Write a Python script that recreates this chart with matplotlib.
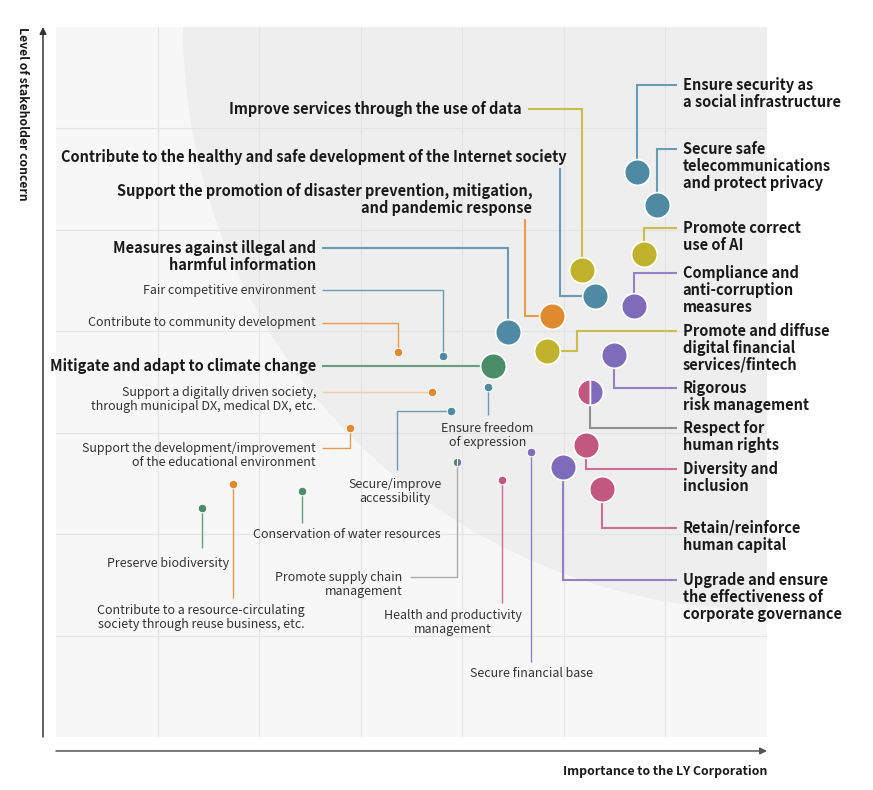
import matplotlib
matplotlib.use('Agg')
import matplotlib.pyplot as plt
from matplotlib.patches import Circle
from matplotlib.colors import to_rgb

plt.rcParams['font.family'] = ['Noto Sans CJK JP', 'DejaVu Sans']

TEAL = '#4f8aa3'
OLIVE = '#c0b22d'
ORANGE = '#e08a2f'
PURPLE = '#7e6cbb'
GREEN = '#4b8d68'
PINK = '#c2577f'

# ---------------- data ----------------
topics = [
    "Ensure security as\na social infrastructure",
    "Secure safe\ntelecommunications\nand protect privacy",
    "Promote correct\nuse of AI",
    "Compliance and\nanti-corruption\nmeasures",
    "Improve services through the use of data",
    "Contribute to the healthy and safe development of the Internet society",
    "Support the promotion of disaster prevention, mitigation,\nand pandemic response",
    "Measures against illegal and\nharmful information",
    "Mitigate and adapt to climate change",
    "Promote and diffuse\ndigital financial\nservices/fintech",
    "Rigorous\nrisk management",
    "Respect for\nhuman rights",
    "Diversity and\ninclusion",
    "Upgrade and ensure\nthe effectiveness of\ncorporate governance",
    "Retain/reinforce\nhuman capital",
    "Fair competitive environment",
    "Contribute to community development",
    "Support a digitally driven society,\nthrough municipal DX, medical DX, etc.",
    "Ensure freedom\nof expression",
    "Secure/improve\naccessibility",
    "Support the development/improvement\nof the educational environment",
    "Promote supply chain\nmanagement",
    "Secure financial base",
    "Health and productivity\nmanagement",
    "Contribute to a resource-circulating\nsociety through reuse business, etc.",
    "Conservation of water resources",
    "Preserve biodiversity",
]
importance = [5.72, 5.92, 5.79, 5.69, 5.18, 5.31, 4.88, 4.45, 4.30, 4.83, 5.49, 5.26, 5.22, 4.99, 5.38,
              3.81, 3.37, 3.70, 4.25, 3.89, 2.89, 3.95, 4.68, 4.39, 1.74, 2.42, 1.44]
concern = [5.57, 5.245, 4.76, 4.25, 4.60, 4.35, 4.15, 3.99, 3.66, 3.81, 3.77, 3.40, 2.88, 2.66, 2.445,
           3.76, 3.80, 3.40, 3.45, 3.21, 3.05, 2.71, 2.81, 2.53, 2.49, 2.43, 2.26]
is_material = [True] * 15 + [False] * 12
color_main = [TEAL, TEAL, OLIVE, PURPLE, OLIVE, TEAL, ORANGE, TEAL, GREEN, OLIVE, PURPLE, PINK, PINK, PURPLE, PINK,
              TEAL, ORANGE, ORANGE, TEAL, TEAL, ORANGE, GREEN, PURPLE, PINK, ORANGE, GREEN, GREEN]
color_alt = [None] * 11 + [PURPLE] + [None] * 9 + [PURPLE] + [None] * 5

# ---------------- layout (label anchors & leader routes) ----------------
R = 'right'
L = 'left'
C = 'center'
label_pos = [
    (6.17, 6.43, L), (6.17, 5.797, L), (6.17, 5.018, L), (6.17, 4.575, L),
    (4.58, 6.19, R), (5.03, 5.72, R), (4.69, 5.383, R), (2.56, 4.82, R), (2.56, 3.66, R),
    (6.17, 4.003, L), (6.17, 3.441, L), (6.17, 3.046, L), (6.17, 2.642, L), (6.17, 1.548, L), (6.17, 2.061, L),
    (2.56, 4.407, R), (2.56, 4.082, R), (2.56, 3.40, R), (4.25, 3.046, C), (3.34, 2.494, C),
    (2.56, 2.849, R), (3.41, 1.577, R), (4.68, 0.625, C), (3.91, 1.193, C), (1.43, 1.252, C),
    (2.865, 2.001, C), (1.10, 1.715, C),
]
# route: ('vh', y, x_end) | ('hv', x, y_end) | ('hvh', x_elbow, y, x_end) | ('v', y_end)
routes = [
    ('vh', 6.43, 6.11), ('vh', 5.797, 6.11), ('vh', 5.018, 6.11), ('vh', 4.575, 6.11),
    ('vh', 6.19, 4.65), ('hv', 4.96, 5.61), ('hv', 4.62, 5.107), ('vh', 4.82, 2.62), ('vh', 3.66, 2.62),
    ('hvh', 5.13, 4.003, 6.11), ('vh', 3.441, 6.11), ('vh', 3.046, 6.11), ('vh', 2.642, 6.11),
    ('vh', 1.548, 6.11), ('vh', 2.061, 6.11),
    ('vh', 4.407, 2.62), ('vh', 4.082, 2.62), ('vh', 3.40, 2.62), ('v', 3.175), ('hv', 3.357, 2.632),
    ('vh', 2.849, 2.62), ('vh', 1.577, 3.485), ('v', 0.739), ('v', 1.321), ('v', 1.37),
    ('v', 2.11), ('v', 1.863),
]
line_override = {11: '#8f8f8f', 21: '#adadad', 17: '#f1cca6'}


def lighten(c, f):
    r, g, b = to_rgb(c)
    return (r + (1 - r) * f, g + (1 - g) * f, b + (1 - b) * f)


fig = plt.figure(figsize=(8.73, 7.90), dpi=100)
W, H = 873, 790
ax = fig.add_axes([56 / W, (H - 737) / H, 711 / W, 710 / H])
ax.set_xlim(0, 7)
ax.set_ylim(0, 7)
ax.set_facecolor('#f7f7f7')
for s in ax.spines.values():
    s.set_visible(False)
ax.set_xticks([])
ax.set_yticks([])

ax.add_patch(Circle((7, 7), 5.75, facecolor='#eeeeee', edgecolor='none', zorder=0.5))
for g in range(1, 7):
    ax.axvline(g, color='#e3e3e3', lw=0.8, zorder=1)
    ax.axhline(g, color='#e3e3e3', lw=0.8, zorder=1)

for i, t in enumerate(topics):
    bx, by = importance[i], concern[i]
    r = routes[i]
    if r[0] == 'vh':
        xs, ys = [bx, bx, r[2]], [by, r[1], r[1]]
    elif r[0] == 'hv':
        xs, ys = [bx, r[1], r[1]], [by, by, r[2]]
    elif r[0] == 'hvh':
        xs, ys = [bx, r[1], r[1], r[3]], [by, by, r[2], r[2]]
    else:
        xs, ys = [bx, bx], [by, r[1]]
    lc = line_override.get(i, lighten(color_main[i], 0.15))
    ax.plot(xs, ys, color=lc, lw=1.5 if is_material[i] else 1.0, zorder=2,
            solid_joinstyle='miter', solid_capstyle='butt')

    ms = 18.5 if is_material[i] else 6.2
    mew = 1.2 if is_material[i] else 0.7
    if color_alt[i] is None:
        ax.plot([bx], [by], 'o', ms=ms, mfc=color_main[i], mec='white', mew=mew, zorder=3)
    else:
        ax.plot([bx], [by], 'o', ms=ms, fillstyle='left', mfc=color_main[i],
                markerfacecoloralt=color_alt[i], mec='white', mew=mew, zorder=3)

    lx, ly, ha = label_pos[i]
    if is_material[i]:
        fs, fw, col, sp = 10.5, 'bold', '#1a1a1a', 0.1676
    else:
        fs, fw, col, sp = 9.0, 'normal', '#333333', 0.138
    for k, line in enumerate(t.split('\n')):
        ax.text(lx, ly - k * sp, line, ha=ha, va='center', fontsize=fs, fontweight=fw,
                color=col, zorder=4)

# axis arrows
ax.annotate('', xy=(-0.0183, 1.0), xytext=(-0.0183, 0.0), xycoords='axes fraction',
            arrowprops=dict(arrowstyle='-|>', color='#333333', lw=1.1, mutation_scale=10,
                            shrinkA=0, shrinkB=0), annotation_clip=False)
ax.annotate('', xy=(1.0, -0.0197), xytext=(0.0, -0.0197), xycoords='axes fraction',
            arrowprops=dict(arrowstyle='-|>', color='#555555', lw=1.1, mutation_scale=10,
                            shrinkA=0, shrinkB=0), annotation_clip=False)

fig.text(22 / W, 1 - 27 / H, 'Level of stakeholder concern', rotation=270, ha='center', va='top',
         fontsize=8.8, fontweight='bold', color='#1a1a1a')
fig.text(767 / W, 1 - 771 / H, 'Importance to the LY Corporation', ha='right', va='center',
         fontsize=8.9, fontweight='bold', color='#1a1a1a')

fig.savefig('out.png', dpi=100, facecolor='white')
